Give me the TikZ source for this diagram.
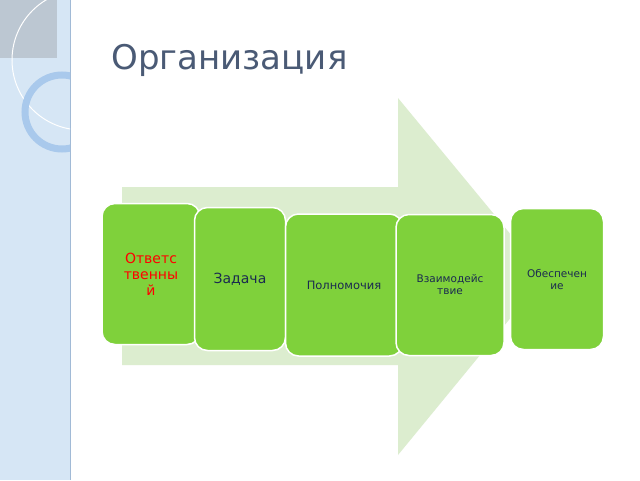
\documentclass[tikz,border=0pt]{standalone}
\usepackage{fontspec}
\setmainfont{DejaVu Sans}
\begin{document}
\begin{tikzpicture}[x=1pt,y=-1pt,
  bx/.style={draw=white,line width=1.5pt,fill=boxg,rounded corners=13pt,align=center,inner sep=0pt,text=txt}]
\definecolor{boxg}{HTML}{7FD13B}
\definecolor{arr}{HTML}{DCEDCF}
\definecolor{strip}{HTML}{D6E6F5}
\definecolor{ring}{HTML}{A9C9EC}
\definecolor{ttl}{HTML}{4A5A75}
\definecolor{txt}{HTML}{1A2A50}
\useasboundingbox (0,0) rectangle (640,480);
\fill[white] (0,0) rectangle (640,480);
\fill[strip] (0,0) rectangle (70,480);
\draw[ring!80!gray,line width=1pt] (70,0) -- (70,480);
\begin{scope}
\clip (0,0) rectangle (70,480);
\fill[gray!30!strip] (0,0) rectangle (57,58);
\draw[white,line width=1pt] (82,60) circle (70);
\draw[ring,line width=7pt] (62,112) circle (37);
\end{scope}
\node[anchor=west,text=ttl,font=\fontsize{34}{40}\selectfont] (t) at (108,60) {Организация};
\fill[arr] (122,187) -- (398,187) -- (398,98) -- (545,276) -- (398,455) -- (398,365) -- (122,365) -- cycle;
\node[bx,minimum width=98pt,minimum height=141pt,text=red,font=\fontsize{14}{16}\selectfont,text width=70pt] (b1) at (151,274) {Ответс\\твенны\\й};
\node[bx,minimum width=91pt,minimum height=143pt,font=\fontsize{14}{16}\selectfont] (b2) at (240,279) {Задача};
\node[bx,minimum width=117pt,minimum height=142pt,font=\fontsize{11.5}{13}\selectfont] (b3) at (344,285) {Полномочия};
\node[bx,minimum width=108pt,minimum height=141pt,font=\fontsize{10.5}{12}\selectfont] (b4) at (450,285) {Взаимодейс\\твие};
\node[bx,minimum width=93pt,minimum height=141pt,font=\fontsize{10.5}{12}\selectfont] (b5) at (557,279) {Обеспечен\\ие};
\end{tikzpicture}
\end{document}
